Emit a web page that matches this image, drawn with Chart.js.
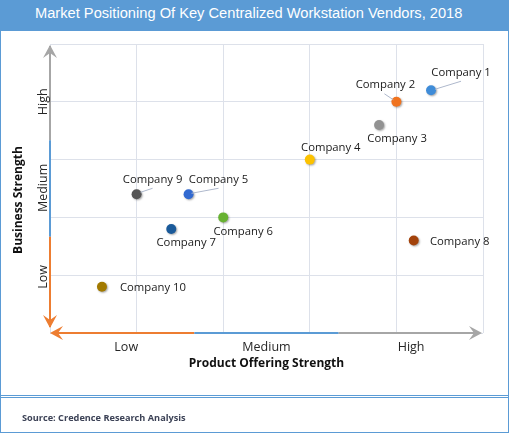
<!DOCTYPE html>
<html>
<head>
<meta charset="utf-8">
<script src="https://cdn.jsdelivr.net/npm/chart.js@4.4.1/dist/chart.umd.min.js"></script>
<style>
    html, body { margin: 0; padding: 0; background: #fff; }
    #wrap { position: relative; width: 509px; height: 433px; overflow: hidden; }
    #chart { position: absolute; left: 0; top: 0; }
    #title {
        position: absolute; left: 0; top: 0; width: 509px; height: 31px;
        background: #5b9bd5; color: #fff;
        font: 14.67px 'Liberation Sans', Arial, sans-serif; line-height: 26px;
        padding-left: 35px; box-sizing: border-box; white-space: nowrap;
    }
    #frame {
        position: absolute; left: 0; top: 0; width: 509px; height: 433px;
        border: 1px solid #5b9bd5; box-sizing: border-box; pointer-events: none;
    }
    #sep {
        position: absolute; left: 0; top: 395px; width: 509px; height: 1px;
        border-top: 1px solid #5b9bd5; border-bottom: 1px solid #5b9bd5;
    }
    #source {
        position: absolute; left: 22px; top: 411px;
        font: bold 9.2px 'Open Sans', sans-serif; color: #3c4256;
    }
</style>
</head>
<body>
<div id="wrap">
    <canvas id="chart" width="509" height="433"></canvas>
    <div id="title">Market Positioning Of Key Centralized Workstation Vendors, 2018</div>
    <div id="sep"></div>
    <div id="source">Source: Credence Research Analysis</div>
    <div id="frame"></div>
</div>
<script>
// Data (scale 0..5 on both axes)
const companies = ['Company 1', 'Company 2', 'Company 3', 'Company 4', 'Company 5',
                   'Company 6', 'Company 7', 'Company 8', 'Company 9', 'Company 10'];
const productStrength  = [4.4, 4.0, 3.8, 3.0, 1.6, 2.0, 1.4, 4.2, 1.0, 0.6];
const businessStrength = [4.2, 4.0, 3.6, 3.0, 2.4, 2.0, 1.8, 1.6, 2.4, 0.8];
const levelLabels = ['Low', 'Medium', 'High'];
const xLevelPos = [0.88, 2.5, 4.17];
const yLevelPos = [0.97, 2.51, 4.0];

const dotColors = ['#3f8cd8', '#f0731f', '#929292', '#fcc200', '#3169d0',
                   '#68b232', '#1a5a9a', '#a3430b', '#555555', '#a27a00'];

// label placement relative to each dot (px), plus optional leader line
const labelStyle = [
    { dx: 30, dy: -17, lead: [4, -1, 30, -9] },
    { dx: -11, dy: -17, lead: [-12, -8, -3, -2] },
    { dx: 18, dy: 14 },
    { dx: 21, dy: -12 },
    { dx: 30, dy: -15, lead: [3, -1, 30, -6] },
    { dx: 20, dy: 14 },
    { dx: 15, dy: 14 },
    { dx: 46, dy: 1 },
    { dx: 16, dy: -15, lead: [4, -2, 16, -6] },
    { dx: 51, dy: 1 }
];

const GRAY = '#a6a6a6', BLUE = '#5b9bd5', ORANGE = '#ed7d31';

function arrow(ctx, x, y, ux, uy, color) {
    // stealth-style arrow head, tip at (x, y), pointing along (ux, uy)
    const len = 13, half = 7, notch = 8;
    const px = -uy, py = ux;
    ctx.beginPath();
    ctx.moveTo(x, y);
    ctx.lineTo(x - ux * len + px * half, y - uy * len + py * half);
    ctx.lineTo(x - ux * notch, y - uy * notch);
    ctx.lineTo(x - ux * len - px * half, y - uy * len - py * half);
    ctx.closePath();
    ctx.fillStyle = color;
    ctx.fill();
}

const axisArrows = {
    id: 'axisArrows',
    beforeDatasetsDraw(chart) {
        const { ctx, chartArea: a } = chart;
        const w = a.right - a.left, h = a.bottom - a.top;
        ctx.save();
        ctx.lineWidth = 2;
        const seg = (x1, y1, x2, y2, c) => {
            ctx.beginPath(); ctx.moveTo(x1, y1); ctx.lineTo(x2, y2);
            ctx.strokeStyle = c; ctx.stroke();
        };
        // vertical axis: gray / blue / orange from top to bottom
        seg(a.left, a.top + 2, a.left, a.top + h / 3, GRAY);
        seg(a.left, a.top + h / 3, a.left, a.top + 2 * h / 3, BLUE);
        seg(a.left, a.top + 2 * h / 3, a.left, a.bottom - 6, ORANGE);
        // horizontal axis: orange / blue / gray from left to right
        seg(a.left + 4, a.bottom, a.left + w / 3, a.bottom, ORANGE);
        seg(a.left + w / 3, a.bottom, a.left + 2 * w / 3, a.bottom, BLUE);
        seg(a.left + 2 * w / 3, a.bottom, a.right - 4, a.bottom, GRAY);
        arrow(ctx, a.left, a.top + 1, 0, -1, GRAY);
        arrow(ctx, a.left, a.bottom - 5, 0, 1, ORANGE);
        arrow(ctx, a.left, a.bottom, -1, 0, ORANGE);
        arrow(ctx, a.right - 1, a.bottom, 1, 0, GRAY);
        ctx.restore();

        // soft shadow under the dots
        ctx.save();
        ctx.shadowColor = 'rgba(0,0,0,0.35)';
        ctx.shadowBlur = 2;
        ctx.shadowOffsetX = 1;
        ctx.shadowOffsetY = 1;
    },
    afterDatasetsDraw(chart) {
        const { ctx } = chart;
        ctx.restore();

        // company labels with leader lines
        const meta = chart.getDatasetMeta(0);
        ctx.save();
        ctx.font = "11.3px 'Open Sans', sans-serif";
        ctx.textAlign = 'center';
        ctx.textBaseline = 'middle';
        meta.data.forEach((pt, i) => {
            const s = labelStyle[i];
            if (s.lead) {
                ctx.beginPath();
                ctx.moveTo(pt.x + s.lead[0], pt.y + s.lead[1]);
                ctx.lineTo(pt.x + s.lead[2], pt.y + s.lead[3]);
                ctx.strokeStyle = '#aeb8cc';
                ctx.lineWidth = 1;
                ctx.stroke();
            }
            ctx.fillStyle = '#1a1a1a';
            ctx.fillText(companies[i], pt.x + s.dx, pt.y + s.dy);
        });
        ctx.restore();

        // vertical axis level labels and title (rotated)
        const y = chart.scales.y;
        ctx.save();
        ctx.textAlign = 'center';
        ctx.textBaseline = 'middle';
        ctx.fillStyle = '#262626';
        ctx.font = "12.5px 'Open Sans', sans-serif";
        yLevelPos.forEach((v, i) => {
            ctx.save();
            ctx.translate(y.left + 43, y.getPixelForValue(v));
            ctx.rotate(-Math.PI / 2);
            ctx.fillText(levelLabels[i], 0, 0);
            ctx.restore();
        });
        ctx.fillStyle = '#111';
        ctx.font = "bold 12px 'Open Sans', sans-serif";
        ctx.translate(y.left + 19, y.getPixelForValue(2.3));
        ctx.rotate(-Math.PI / 2);
        ctx.fillText('Business Strength', 0, 0);
        ctx.restore();
    }
};

const ctx = document.getElementById('chart').getContext('2d');
new Chart(ctx, {
    type: 'scatter',
    data: {
        datasets: [{
            data: productStrength.map((v, i) => ({ x: v, y: businessStrength[i] })),
            pointBackgroundColor: dotColors,
            pointBorderWidth: 0,
            pointRadius: 5,
            pointHoverRadius: 5
        }]
    },
    options: {
        responsive: false,
        animation: false,
        events: [],
        layout: { padding: { top: 44, right: 26, left: 0, bottom: 0 } },
        plugins: { legend: { display: false }, tooltip: { enabled: false } },
        scales: {
            x: {
                type: 'linear', position: 'bottom', min: 0, max: 5,
                ticks: { display: false, stepSize: 1 },
                grid: { color: '#dde1ea', lineWidth: 1, drawTicks: false },
                border: { display: false },
                afterFit: (s) => { s.height = 0; }
            },
            xl: {
                type: 'linear', position: 'bottom', min: 0, max: 5,
                afterBuildTicks: (s) => { s.ticks = xLevelPos.map(v => ({ value: v })); },
                ticks: {
                    autoSkip: false, maxRotation: 0, padding: 7,
                    color: '#262626', font: { family: 'Open Sans', size: 12.5 },
                    callback: (v, i) => levelLabels[i]
                },
                grid: { display: false, drawTicks: false },
                border: { display: false },
                title: {
                    display: true, text: 'Product Offering Strength', color: '#111',
                    font: { family: 'Open Sans', size: 12, weight: 'bold' },
                    padding: { top: 0, bottom: 62 }
                },
                afterFit: (s) => { s.height = 100; }
            },
            y: {
                type: 'linear', position: 'left', min: 0, max: 5,
                ticks: { display: false, stepSize: 1 },
                grid: { color: '#dde1ea', lineWidth: 1, drawTicks: false },
                border: { display: false },
                afterFit: (s) => { s.width = 50; }
            }
        }
    },
    plugins: [axisArrows]
});
</script>
</body>
</html>
